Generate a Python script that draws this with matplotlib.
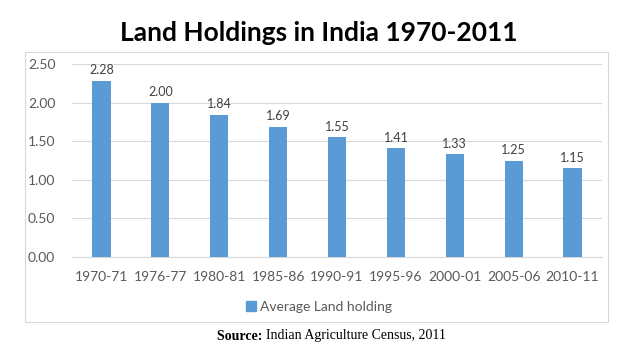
import matplotlib
matplotlib.use("Agg")
import matplotlib.pyplot as plt
from matplotlib.patches import Rectangle, Patch

# Données
periods = ["1970-71", "1976-77", "1980-81", "1985-86", "1990-91",
           "1995-96", "2000-01", "2005-06", "2010-11"]
avg_holding = [2.28, 2.00, 1.84, 1.69, 1.55, 1.41, 1.33, 1.25, 1.15]
y_ticks = [0.0, 0.5, 1.0, 1.5, 2.0, 2.5]

bar_color = "#5B9BD5"
grid_color = "#D9D9D9"
text_color = "#595959"

plt.rcParams["font.family"] = ["Lato", "DejaVu Sans"]

fig = plt.figure(figsize=(6.38, 3.59), dpi=100)

# Cadre du graphique
fig.patches.append(Rectangle((0.0392, 0.1031), 0.9138, 0.752, transform=fig.transFigure,
                             fill=False, edgecolor=grid_color, linewidth=0.8))

ax = fig.add_axes([0.1129, 0.2841, 0.8307, 0.5376])
x = range(len(periods))
bars = ax.bar(x, avg_holding, width=0.31, color=bar_color, zorder=3)

for b, v in zip(bars, avg_holding):
    ax.text(b.get_x() + b.get_width() / 2, v + 0.06, f"{v:.2f}",
            ha="center", va="bottom", fontsize=9, color="#404040")

ax.set_ylim(0, 2.5)
ax.set_xlim(-0.5, len(periods) - 0.5)
ax.set_yticks(y_ticks)
ax.set_yticklabels([f"{t:.2f}" for t in y_ticks])
ax.set_xticks(list(x))
ax.set_xticklabels(periods)
ax.tick_params(axis="both", length=0, colors=text_color, labelsize=10)
ax.tick_params(axis="x", pad=10)
ax.tick_params(axis="y", pad=12)
ax.grid(axis="y", color=grid_color, linewidth=0.8, zorder=0)
for s in ["top", "right", "left"]:
    ax.spines[s].set_visible(False)
ax.spines["bottom"].set_color(grid_color)

# Légende
fig.legend(handles=[Patch(color=bar_color, label="Average Land holding")],
           loc="center", bbox_to_anchor=(0.5, 1 - 307 / 359), frameon=False,
           fontsize=10, labelcolor=text_color, handlelength=0.7, handleheight=0.7,
           handletextpad=0.3)

# Titre
fig.text(0.5, 1 - 33 / 359, "Land Holdings in India 1970-2011", ha="center", va="center",
         fontsize=19, fontweight="bold", color="black")

# Source (deux morceaux : gras + normal)
y_src = 1 - 336 / 359
src1 = fig.text(0.5, y_src, "Source: ", ha="right", va="center",
                fontsize=10, fontweight="bold", family="Liberation Serif")
src2 = fig.text(0.5, y_src, "Indian Agriculture Census, 2011", ha="left", va="center",
                fontsize=10, family="Liberation Serif")
fig.canvas.draw()
r = fig.canvas.get_renderer()
w1 = src1.get_window_extent(r).width
w2 = src2.get_window_extent(r).width
W = fig.bbox.width
cx = 0.520 * W
split = (cx - (w1 + w2) / 2 + w1) / W
src1.set_position((split, y_src))
src2.set_position((split, y_src))

fig.savefig("out.png", dpi=100)
